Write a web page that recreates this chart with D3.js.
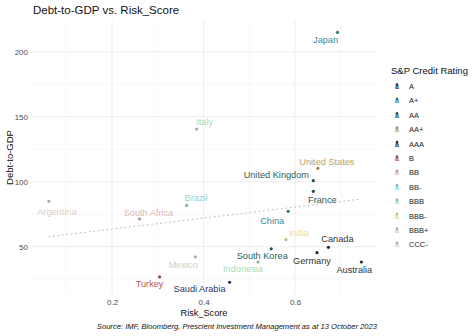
<!DOCTYPE html>
<html>
<head>
<meta charset="utf-8">
<script src="https://cdn.jsdelivr.net/npm/d3@7"></script>
<style>
  body { margin: 0; background: #fff; }
  svg { font-family: "Liberation Sans", Arial, sans-serif; }
</style>
</head>
<body>
<div id="app"></div>
<script>
const countries = ["Japan", "Italy", "Argentina", "South Africa", "Brazil", "United States",
  "United Kingdom", "France", "China", "India", "South Korea", "Indonesia", "Canada",
  "Germany", "Australia", "Mexico", "Turkey", "Saudi Arabia"];
const riskScore = [0.693, 0.385, 0.062, 0.26, 0.363, 0.65, 0.64, 0.64, 0.585, 0.58,
  0.548, 0.519, 0.673, 0.648, 0.745, 0.382, 0.304, 0.457];
const debtToGdp = [214.9, 140.5, 84.9, 71.3, 81.8, 110.3, 100.8, 92.6, 77.2, 55.4,
  48.3, 38.2, 49.5, 45.4, 38.2, 42.2, 26.7, 22.6];
const ratings = ["A+", "BBB", "CCC-", "BB", "BB-", "AA+", "AA", "AA", "A+", "BBB-",
  "AA", "BBB", "AAA", "AAA", "AAA", "BBB+", "B", "A"];

const ratingLevels = ["A", "A+", "AA", "AA+", "AAA", "B", "BB", "BB-", "BBB", "BBB-", "BBB+", "CCC-"];
const ratingColors = ["#2b3961", "#3a8a9a", "#2a5e5e", "#b9a364", "#333333", "#b0564a",
  "#dcb7b6", "#8fd4d6", "#a8dcb6", "#efd99e", "#cdcdcd", "#d8cfc4"];

const xTicks = [0.2, 0.4, 0.6];
const yTicks = [50, 100, 150, 200];
// dotted trend line
const trendX = [0.062, 0.745];
const trendY = [57.7, 86.6];

// label nudges (px) to mimic the repelled labels
const nudge = {
  "Japan": [-12, 10.5], "Italy": [8, -4], "Argentina": [8, 14], "South Africa": [9, -3],
  "Brazil": [9.5, -4.5], "United States": [9, -3], "United Kingdom": [-37, -2.5],
  "France": [9, 12], "China": [-16, 12.5], "India": [13, -3.5], "South Korea": [-9, 10],
  "Indonesia": [-15, 10], "Canada": [9, -5], "Germany": [-5, 11], "Australia": [-7, 11],
  "Mexico": [-12, 11.5], "Turkey": [-10, 10], "Saudi Arabia": [-30, 9.5]
};

const W = 474, H = 336;
const panel = { left: 32, right: 376, top: 20, bottom: 295 };

const svg = d3.select("#app").append("svg").attr("width", W).attr("height", H);

const x = d3.scaleLinear().domain([0.0251, 0.777]).range([panel.left, panel.right]);
const y = d3.scaleLinear().domain([12.8, 224.4]).range([panel.bottom, panel.top]);
const color = d3.scaleOrdinal().domain(ratingLevels).range(ratingColors);

//grid
const grid = svg.append("g");
const xMinor = [0.1, 0.3, 0.5, 0.7];
const yMinor = [25, 75, 125, 175];
grid.selectAll(".xm").data(xMinor).enter().append("line")
  .attr("x1", d => x(d)).attr("x2", d => x(d))
  .attr("y1", panel.top).attr("y2", panel.bottom)
  .attr("stroke", "#f3f3f3").attr("stroke-width", 0.6);
grid.selectAll(".ym").data(yMinor).enter().append("line")
  .attr("y1", d => y(d)).attr("y2", d => y(d))
  .attr("x1", panel.left).attr("x2", panel.right)
  .attr("stroke", "#f3f3f3").attr("stroke-width", 0.6);
grid.selectAll(".xg").data(xTicks).enter().append("line")
  .attr("x1", d => x(d)).attr("x2", d => x(d))
  .attr("y1", panel.top).attr("y2", panel.bottom)
  .attr("stroke", "#ebebeb").attr("stroke-width", 0.9);
grid.selectAll(".yg").data(yTicks).enter().append("line")
  .attr("y1", d => y(d)).attr("y2", d => y(d))
  .attr("x1", panel.left).attr("x2", panel.right)
  .attr("stroke", "#ebebeb").attr("stroke-width", 0.9);

//axes
const xAxis = d3.axisBottom(x).tickValues(xTicks).tickSize(0).tickPadding(4).tickFormat(d3.format(".1f"));
const yAxis = d3.axisLeft(y).tickValues(yTicks).tickSize(0).tickPadding(4);
const gx = svg.append("g").attr("transform", `translate(0,${panel.bottom})`).call(xAxis);
const gy = svg.append("g").attr("transform", `translate(${panel.left},0)`).call(yAxis);
[gx, gy].forEach(g => {
  g.select(".domain").remove();
  g.selectAll("text").attr("fill", "#4d4d4d").style("font-size", "8px")
    .style("font-family", "Liberation Sans, Arial, sans-serif");
});

//trend line
svg.append("line")
  .attr("x1", x(trendX[0])).attr("y1", y(trendY[0]))
  .attr("x2", x(trendX[1])).attr("y2", y(trendY[1]))
  .attr("stroke", "#bdbdbd").attr("stroke-width", 1)
  .attr("stroke-dasharray", "1,3.5").attr("stroke-linecap", "round");

//points
const idx = d3.range(countries.length);
svg.selectAll(".pt").data(idx).enter().append("circle")
  .attr("cx", i => x(riskScore[i])).attr("cy", i => y(debtToGdp[i]))
  .attr("r", 1.6)
  .attr("fill", i => d3.color(color(ratings[i])).darker(0.5));

//labels
svg.selectAll(".lbl").data(idx).enter().append("text")
  .attr("x", i => x(riskScore[i]) + nudge[countries[i]][0])
  .attr("y", i => y(debtToGdp[i]) + nudge[countries[i]][1])
  .attr("text-anchor", "middle")
  .style("font-size", "9.2px")
  .attr("fill", i => color(ratings[i]))
  .text(i => countries[i]);

//titles
svg.append("text").attr("x", 33).attr("y", 14)
  .style("font-size", "11.5px").attr("fill", "#111")
  .text("Debt-to-GDP vs. Risk_Score");
svg.append("text").attr("x", (panel.left + panel.right) / 2).attr("y", 316)
  .attr("text-anchor", "middle").style("font-size", "9.2px").attr("fill", "#111")
  .text("Risk_Score");
svg.append("text")
  .attr("transform", `translate(13,${(panel.top + panel.bottom) / 2}) rotate(-90)`)
  .attr("text-anchor", "middle").style("font-size", "9.5px").attr("fill", "#111")
  .text("Debt-to-GDP");
svg.append("text").attr("x", 377).attr("y", 329)
  .attr("text-anchor", "end").style("font-size", "7.6px").style("font-style", "italic")
  .attr("fill", "#111")
  .text("Source: IMF, Bloomberg, Prescient Investment Management as at 13 October 2023");

//legend
const legend = svg.append("g").attr("transform", "translate(391,0)");
legend.append("text").attr("x", 0).attr("y", 74)
  .style("font-size", "9.5px").attr("fill", "#111").text("S&P Credit Rating");
const item = legend.selectAll(".item").data(ratingLevels).enter().append("g")
  .attr("transform", (d, i) => `translate(0,${86 + i * 14.4})`);
item.append("text").attr("x", 6).attr("y", 3).attr("text-anchor", "middle")
  .style("font-size", "7px").style("font-weight", "bold")
  .attr("fill", d => color(d)).text("a");
item.append("circle").attr("cx", 6).attr("cy", -1.5).attr("r", 1.3)
  .attr("fill", d => d3.color(color(d)).darker(0.5));
item.append("text").attr("x", 18).attr("y", 3)
  .style("font-size", "7.5px").attr("fill", "#222").text(d => d);
</script>
</body>
</html>
